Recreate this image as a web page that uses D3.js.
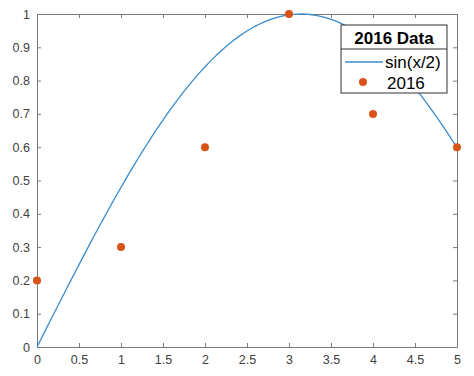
<!DOCTYPE html>
<html>
<head>
<meta charset="utf-8">
<script src="https://cdn.jsdelivr.net/npm/d3@7"></script>
<style>
  body { margin: 0; background: #fff; }
  text { font-family: "Liberation Sans", Arial, sans-serif; }
</style>
</head>
<body>
<div id="chart"></div>
<script>
// data
var pointX = [0, 1, 2, 3, 4, 5];
var pointY = [0.2, 0.3, 0.6, 1, 0.7, 0.6];
var xTicks = [0, 0.5, 1, 1.5, 2, 2.5, 3, 3.5, 4, 4.5, 5];
var yTicks = [0, 0.1, 0.2, 0.3, 0.4, 0.5, 0.6, 0.7, 0.8, 0.9, 1];
var curveX = d3.range(0, 5.0001, 0.05); // sampling of sin(x/2)
var legendTitle = "2016 Data";
var legendNames = ["sin(x/2)", "2016"];

var lineColor = "#3a8ccc";
var dotColor = "#d95319";
var axisColor = "#7a7a7a";
var labelColor = "#404040";

var W = 474, H = 376;
var mLeft = 37, mRight = 457, mTop = 14, mBottom = 347;

var svg = d3.select("#chart").append("svg")
    .attr("width", W)
    .attr("height", H);

var x = d3.scaleLinear().domain([0, 5]).range([mLeft, mRight]);
var y = d3.scaleLinear().domain([0, 1]).range([mBottom, mTop]);

// axes (ticks inside, like matlab)
var gx = svg.append("g").attr("transform", "translate(0," + mBottom + ")")
    .call(d3.axisBottom(x).tickValues(xTicks).tickSizeInner(-4).tickSizeOuter(0).tickPadding(8)
        .tickFormat(d3.format("")));
var gy = svg.append("g").attr("transform", "translate(" + mLeft + ",0)")
    .call(d3.axisLeft(y).tickValues(yTicks).tickSizeInner(-4).tickSizeOuter(0).tickPadding(7)
        .tickFormat(d3.format("")));
var gt = svg.append("g").attr("transform", "translate(0," + mTop + ")")
    .call(d3.axisTop(x).tickValues(xTicks).tickSizeInner(-4).tickSizeOuter(0).tickFormat(""));
var gr = svg.append("g").attr("transform", "translate(" + mRight + ",0)")
    .call(d3.axisRight(y).tickValues(yTicks).tickSizeInner(-4).tickSizeOuter(0).tickFormat(""));

[gx, gy, gt, gr].forEach(function (g) {
    g.selectAll("path.domain").attr("stroke", axisColor).attr("stroke-width", 1);
    g.selectAll(".tick line").attr("stroke", axisColor);
    g.selectAll(".tick text").attr("fill", labelColor)
        .style("font-family", "Liberation Sans, Arial, sans-serif")
        .style("font-size", "12.5px");
});

// curve
var line = d3.line()
    .x(function (d) { return x(d); })
    .y(function (d) { return y(Math.sin(d / 2)); });
svg.append("path")
    .datum(curveX)
    .attr("fill", "none")
    .attr("stroke", lineColor)
    .attr("stroke-width", 1.3)
    .attr("d", line);

// points
svg.selectAll("circle.pt")
    .data(pointX)
    .enter().append("circle")
    .attr("class", "pt")
    .attr("cx", function (d) { return x(d); })
    .attr("cy", function (d, i) { return y(pointY[i]); })
    .attr("r", 4)
    .attr("fill", dotColor);

// legend
var lg = svg.append("g").attr("transform", "translate(341,25)");
lg.append("rect")
    .attr("width", 106).attr("height", 68)
    .attr("fill", "#fff").attr("stroke", "#333").attr("stroke-width", 1);
lg.append("line")
    .attr("x1", 0).attr("x2", 106).attr("y1", 24).attr("y2", 24)
    .attr("stroke", "#333");
lg.append("text")
    .attr("x", 53).attr("y", 18.5)
    .attr("text-anchor", "middle")
    .style("font-size", "17px").style("font-weight", "bold")
    .attr("fill", "#000")
    .text(legendTitle);
lg.append("line")
    .attr("x1", 4).attr("x2", 42).attr("y1", 37).attr("y2", 37)
    .attr("stroke", lineColor).attr("stroke-width", 1.3);
lg.append("text")
    .attr("x", 44).attr("y", 43)
    .style("font-size", "17px").attr("fill", "#000")
    .text(legendNames[0]);
lg.append("circle")
    .attr("cx", 22).attr("cy", 57).attr("r", 4).attr("fill", dotColor);
lg.append("text")
    .attr("x", 46).attr("y", 64)
    .style("font-size", "17px").attr("fill", "#000")
    .text(legendNames[1]);
</script>
</body>
</html>
